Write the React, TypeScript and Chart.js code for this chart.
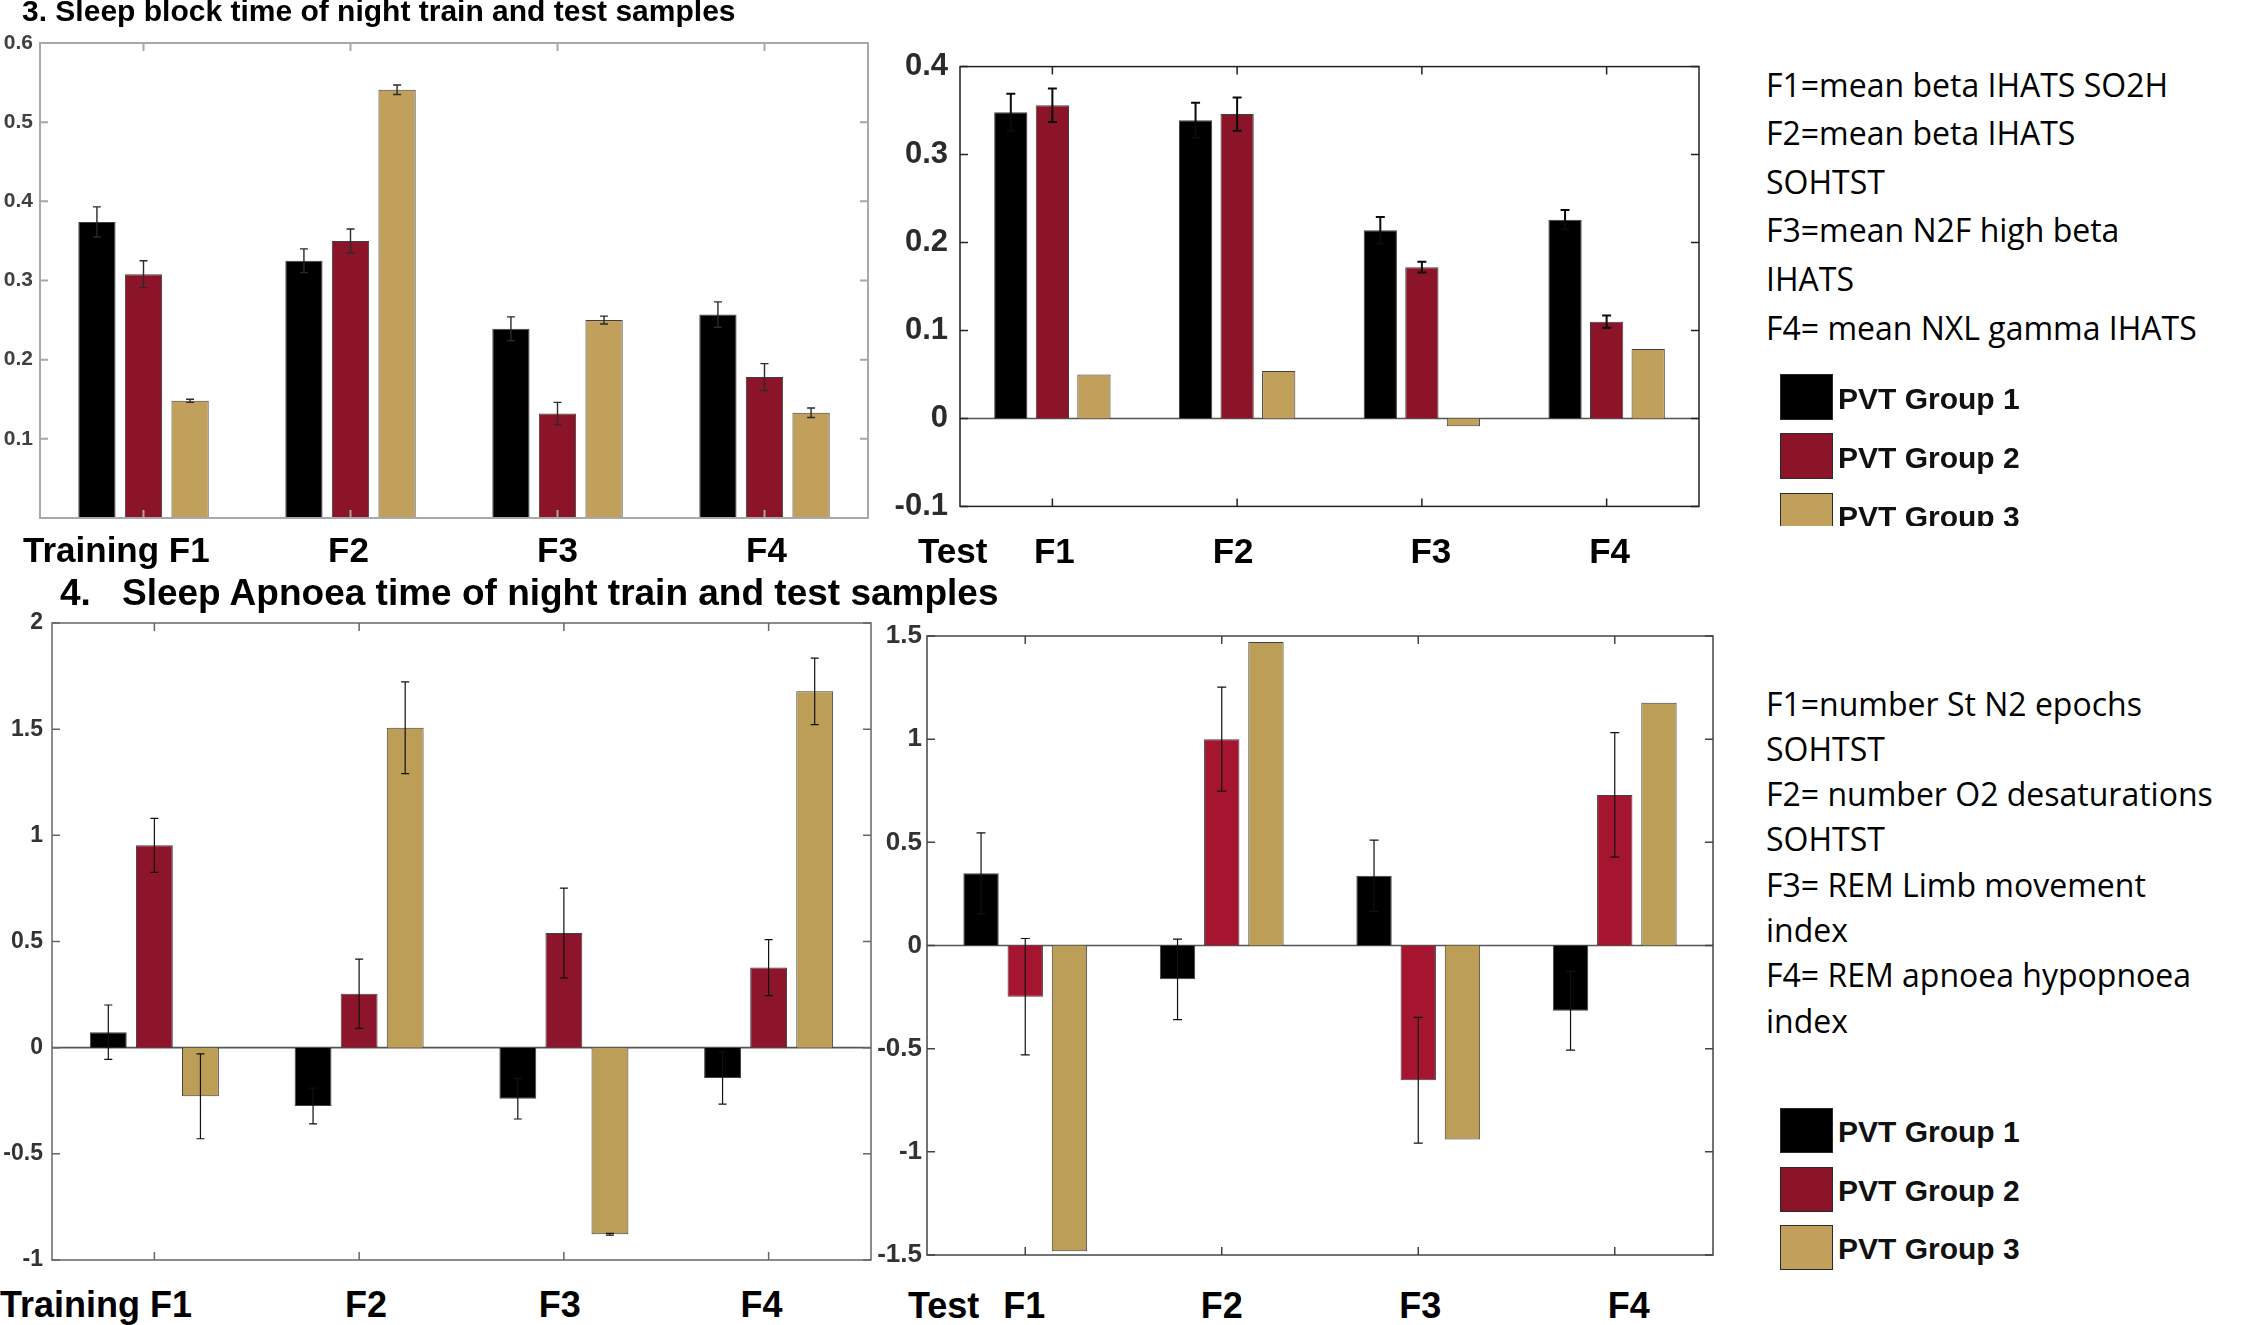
import React, { useEffect, useRef } from 'react';
import { Chart, registerables } from 'chart.js';

Chart.register(...registerables);

// ---------- data ----------
const FEATURES = ['F1', 'F2', 'F3', 'F4'];
const GROUPS = ['PVT Group 1', 'PVT Group 2', 'PVT Group 3'];

// 3. Sleep block time of night – training samples
const blockTrainG1 = [0.374, 0.325, 0.239, 0.257];
const blockTrainG2 = [0.308, 0.35, 0.132, 0.178];
const blockTrainG3 = [0.148, 0.541, 0.25, 0.133];
const blockTrainErrG1 = [0.019, 0.015, 0.015, 0.016];
const blockTrainErrG2 = [0.017, 0.015, 0.014, 0.017];
const blockTrainErrG3 = [0.002, 0.006, 0.005, 0.006];

// 3. Sleep block time of night – test samples
const blockTestG1 = [0.348, 0.339, 0.214, 0.226];
const blockTestG2 = [0.356, 0.346, 0.172, 0.11];
const blockTestG3 = [0.05, 0.054, -0.009, 0.079];
const blockTestErrG1 = [0.021, 0.02, 0.015, 0.011];
const blockTestErrG2 = [0.019, 0.019, 0.006, 0.007];

// 4. Sleep apnoea time of night – training samples
const apnoeaTrainG1 = [0.073, -0.275, -0.241, -0.143];
const apnoeaTrainG2 = [0.953, 0.254, 0.54, 0.377];
const apnoeaTrainG3 = [-0.229, 1.507, -0.879, 1.678];
const apnoeaTrainErrG1 = [0.128, 0.084, 0.095, 0.123];
const apnoeaTrainErrG2 = [0.127, 0.163, 0.211, 0.132];
const apnoeaTrainErrG3 = [0.2, 0.216, 0.004, 0.157];

// 4. Sleep apnoea time of night – test samples
const apnoeaTestG1 = [0.35, -0.164, 0.338, -0.316];
const apnoeaTestG2 = [-0.248, 1.0, -0.653, 0.73];
const apnoeaTestG3 = [-1.482, 1.471, -0.94, 1.177];
const apnoeaTestErrG1 = [0.196, 0.195, 0.173, 0.191];
const apnoeaTestErrG2 = [0.282, 0.252, 0.305, 0.302];

// feature descriptions shown beside each row
const blockNotes = [
  'F1=mean beta IHATS SO2H',
  'F2=mean beta IHATS',
  'SOHTST',
  'F3=mean N2F high beta',
  'IHATS',
  'F4= mean NXL gamma IHATS',
];
const apnoeaNotes = [
  'F1=number St N2 epochs',
  'SOHTST',
  'F2= number O2 desaturations',
  'SOHTST',
  'F3= REM Limb movement',
  'index',
  'F4= REM apnoea hypopnoea',
  'index',
];

// ---------- styling ----------
const SANS = '"Liberation Sans", Arial, Helvetica, sans-serif';
const NARROW = '"Liberation Sans Narrow", "Liberation Sans", Arial, sans-serif';
const BODY = '"Open Sans", "Noto Sans", sans-serif';

const COLORS_A = ['#000000', '#8c1429', '#c1a05b'];
const COLORS_B = ['#000000', '#8c152c', '#bd9e57'];
const COLORS_C = ['#000000', '#a51530', '#bd9e57'];

type Box = { l: number; t: number; r: number; b: number };
type PanelSpec = {
  series: number[][];
  errors: (number[] | null)[];
  colors: string[];
  yMin: number;
  yMax: number;
  yStep: number;
  hideZeroLabel?: boolean;
  box: Box;
  axisW: number;
  labelPad: number;
  tickSize: number;
  tickFamily: string;
  tickColor: string;
  frameColor: string;
  frameWidth: number;
  zeroLine: string | null;
  errColor: string;
  errWidth: number;
  capHalf: number;
};

const PAD = 24;
const TICK_LEN = 8;

function decorPlugin(spec: PanelSpec) {
  return {
    id: 'panelDecor',
    beforeDatasetsDraw(chart: any) {
      if (!spec.zeroLine) return;
      const { ctx, chartArea: a, scales } = chart;
      const y0 = scales.y.getPixelForValue(0);
      ctx.save();
      ctx.strokeStyle = spec.zeroLine;
      ctx.lineWidth = 1.6;
      ctx.beginPath();
      ctx.moveTo(a.left, y0);
      ctx.lineTo(a.right, y0);
      ctx.stroke();
      ctx.restore();
    },
    afterDatasetsDraw(chart: any) {
      const { ctx, chartArea: a, scales } = chart;
      const ys = scales.y;
      const xs = scales.x;
      ctx.save();
      // error bars (mean ± error)
      ctx.strokeStyle = spec.errColor;
      ctx.lineWidth = spec.errWidth;
      chart.data.datasets.forEach((ds: any, i: number) => {
        const errs = spec.errors[i];
        if (!errs) return;
        const meta = chart.getDatasetMeta(i);
        meta.data.forEach((el: any, j: number) => {
          const v = ds.data[j] as number;
          const e = errs[j];
          const hi = ys.getPixelForValue(v + e);
          const lo = ys.getPixelForValue(v - e);
          const x = el.x;
          ctx.beginPath();
          ctx.moveTo(x, hi);
          ctx.lineTo(x, lo);
          ctx.moveTo(x - spec.capHalf, hi);
          ctx.lineTo(x + spec.capHalf, hi);
          ctx.moveTo(x - spec.capHalf, lo);
          ctx.lineTo(x + spec.capHalf, lo);
          ctx.stroke();
        });
      });
      // axes box with inward tick marks
      ctx.strokeStyle = spec.frameColor;
      ctx.lineWidth = spec.frameWidth;
      ctx.strokeRect(a.left, a.top, a.right - a.left, a.bottom - a.top);
      ctx.beginPath();
      ys.ticks.forEach((_: any, k: number) => {
        const py = ys.getPixelForTick(k);
        ctx.moveTo(a.left, py);
        ctx.lineTo(a.left + TICK_LEN, py);
        ctx.moveTo(a.right, py);
        ctx.lineTo(a.right - TICK_LEN, py);
      });
      FEATURES.forEach((_, k) => {
        const px = xs.getPixelForValue(k);
        ctx.moveTo(px, a.top);
        ctx.lineTo(px, a.top + TICK_LEN);
        ctx.moveTo(px, a.bottom);
        ctx.lineTo(px, a.bottom - TICK_LEN);
      });
      ctx.stroke();
      ctx.restore();
    },
  };
}

function BarPanel({ spec }: { spec: PanelSpec }) {
  const ref = useRef<HTMLCanvasElement>(null);
  const w = spec.axisW + (spec.box.r - spec.box.l) + PAD;
  const h = spec.box.b - spec.box.t + 2 * PAD;

  useEffect(() => {
    if (!ref.current) return;
    const chart = new Chart(ref.current, {
      type: 'bar',
      data: {
        labels: FEATURES,
        datasets: spec.series.map((d, i) => ({
          label: GROUPS[i],
          data: d,
          backgroundColor: spec.colors[i],
          borderColor: 'rgba(30,30,30,0.85)',
          borderWidth: 1,
          categoryPercentage: 0.675,
          barPercentage: 0.8,
        })),
      },
      options: {
        responsive: false,
        animation: false,
        layout: { padding: { top: PAD, right: PAD, bottom: PAD, left: 0 } },
        plugins: { legend: { display: false }, tooltip: { enabled: false } },
        scales: {
          x: { display: false },
          y: {
            min: spec.yMin,
            max: spec.yMax,
            afterFit: (s: any) => {
              s.width = spec.axisW;
            },
            grid: { display: false, drawTicks: false },
            border: { display: false },
            ticks: {
              stepSize: spec.yStep,
              padding: spec.labelPad,
              color: spec.tickColor,
              font: { family: spec.tickFamily, size: spec.tickSize, weight: 'bold' },
              callback: (v: any) => {
                const n = Math.round(Number(v) * 10) / 10;
                if (spec.hideZeroLabel && n === 0) return '';
                return String(n === 0 ? 0 : n);
              },
            },
          },
        },
      } as any,
      plugins: [decorPlugin(spec)],
    });
    return () => chart.destroy();
  }, []);

  return (
    <canvas
      ref={ref}
      width={w}
      height={h}
      style={{ position: 'absolute', left: spec.box.l - spec.axisW, top: spec.box.t - PAD }}
    />
  );
}

// ---------- text helpers ----------
type TxtProps = {
  x: number;
  y: number; // baseline
  size: number;
  family?: string;
  weight?: number;
  align?: 'left' | 'center';
  color?: string;
  children: React.ReactNode;
};
function Txt({ x, y, size, family = SANS, weight = 700, align = 'left', color = '#000', children }: TxtProps) {
  const k = family === BODY ? 0.888 : 0.8465;
  const style: React.CSSProperties = {
    position: 'absolute',
    left: x,
    top: y - k * size,
    fontSize: size,
    lineHeight: `${size}px`,
    fontFamily: family,
    fontWeight: weight,
    color,
    whiteSpace: 'pre',
  };
  if (align === 'center') style.transform = 'translateX(-50%)';
  return <div style={style}>{children}</div>;
}

const catCenter = (b: Box, i: number) => b.l + ((b.r - b.l) * (i + 0.5)) / FEATURES.length;

type XLabelProps = {
  box: Box;
  base: number;
  size: number;
  lead: string;
  leadX: number;
  joinFirst: boolean;
  nudge: number[];
};
function XLabels({ box, base, size, lead, leadX, joinFirst, nudge }: XLabelProps) {
  return (
    <>
      {joinFirst ? (
        <Txt x={leadX} y={base} size={size}>{`${lead} ${FEATURES[0]}`}</Txt>
      ) : (
        <>
          <Txt x={leadX} y={base} size={size}>{lead}</Txt>
          <Txt x={catCenter(box, 0) + nudge[0]} y={base} size={size} align="center">{FEATURES[0]}</Txt>
        </>
      )}
      {FEATURES.slice(1).map((f, i) => (
        <Txt key={f} x={catCenter(box, i + 1) + nudge[i + 1]} y={base} size={size} align="center">{f}</Txt>
      ))}
    </>
  );
}

function Legend({ colors, top, step, boxH }: { colors: string[]; top: number; step: number; boxH: number }) {
  return (
    <>
      {GROUPS.map((g, i) => (
        <React.Fragment key={g}>
          <div
            style={{
              position: 'absolute',
              left: 1780,
              top: top + i * step,
              width: 53,
              height: boxH,
              boxSizing: 'border-box',
              background: colors[i],
              border: '1.5px solid #2a2a2a',
            }}
          />
          <Txt x={1838} y={top + i * step + boxH * 0.76} size={30} color="#111">{g}</Txt>
        </React.Fragment>
      ))}
    </>
  );
}

// ---------- panels ----------
const boxTL: Box = { l: 40, t: 43, r: 868, b: 518 };
const boxTR: Box = { l: 960, t: 60, r: 1699, b: 513 };
const boxBL: Box = { l: 52, t: 623, r: 871, b: 1260 };
const boxBR: Box = { l: 927, t: 636, r: 1713, b: 1255 };

const panels: PanelSpec[] = [
  {
    series: [blockTrainG1, blockTrainG2, blockTrainG3],
    errors: [blockTrainErrG1, blockTrainErrG2, blockTrainErrG3],
    colors: COLORS_A,
    yMin: 0, yMax: 0.6, yStep: 0.1, hideZeroLabel: true,
    box: boxTL, axisW: 40, labelPad: 7,
    tickSize: 21, tickFamily: SANS, tickColor: '#404040',
    frameColor: '#a8a8a8', frameWidth: 2,
    zeroLine: null,
    errColor: '#2a2a2a', errWidth: 1.4, capHalf: 4,
  },
  {
    series: [blockTestG1, blockTestG2, blockTestG3],
    errors: [blockTestErrG1, blockTestErrG2, null],
    colors: COLORS_A,
    yMin: -0.1, yMax: 0.4, yStep: 0.1,
    box: boxTR, axisW: 80, labelPad: 12,
    tickSize: 31, tickFamily: SANS, tickColor: '#2b2b2b',
    frameColor: '#222222', frameWidth: 1.5,
    zeroLine: '#555555',
    errColor: '#0a0a0a', errWidth: 2, capHalf: 4.5,
  },
  {
    series: [apnoeaTrainG1, apnoeaTrainG2, apnoeaTrainG3],
    errors: [apnoeaTrainErrG1, apnoeaTrainErrG2, apnoeaTrainErrG3],
    colors: COLORS_B,
    yMin: -1, yMax: 2, yStep: 0.5,
    box: boxBL, axisW: 52, labelPad: 9,
    tickSize: 23, tickFamily: NARROW, tickColor: '#333333',
    frameColor: '#666666', frameWidth: 1.5,
    zeroLine: '#555555',
    errColor: '#111111', errWidth: 1.2, capHalf: 4,
  },
  {
    series: [apnoeaTestG1, apnoeaTestG2, apnoeaTestG3],
    errors: [apnoeaTestErrG1, apnoeaTestErrG2, null],
    colors: COLORS_C,
    yMin: -1.5, yMax: 1.5, yStep: 0.5,
    box: boxBR, axisW: 70, labelPad: 5,
    tickSize: 26, tickFamily: NARROW, tickColor: '#333333',
    frameColor: '#444444', frameWidth: 1.5,
    zeroLine: '#555555',
    errColor: '#111111', errWidth: 1.2, capHalf: 4.5,
  },
];

export default function App() {
  return (
    <div
      style={{
        position: 'absolute',
        left: 0,
        top: 0,
        width: 2250,
        height: 1325,
        background: '#ffffff',
        overflow: 'hidden',
      }}
    >
      {panels.map((p, i) => (
        <BarPanel key={i} spec={p} />
      ))}

      {/* section titles */}
      <Txt x={22} y={21} size={30}>3. Sleep block time of night train and test samples</Txt>
      <Txt x={60} y={605} size={37}>4.</Txt>
      <Txt x={122} y={605} size={37}>Sleep Apnoea time of night train and test samples</Txt>

      {/* category labels */}
      <XLabels box={boxTL} base={562} size={35} lead="Training" leadX={23} joinFirst nudge={[0, -2, 0, 2]} />
      <XLabels box={boxTR} base={563} size={35} lead="Test" leadX={918} joinFirst={false} nudge={[2, -4, 9, 3]} />
      <XLabels box={boxBL} base={1317} size={36} lead="Training" leadX={0} joinFirst nudge={[0, 7, -4, -7]} />
      <XLabels box={boxBR} base={1318} size={36} lead="Test" leadX={908} joinFirst={false} nudge={[-1, 0, 2, 14]} />

      {/* feature descriptions */}
      {blockNotes.map((s, i) => (
        <Txt key={'b' + i} x={1766} y={97 + i * 48.6} size={32} family={BODY} weight={400}>{s}</Txt>
      ))}
      {apnoeaNotes.map((s, i) => (
        <Txt key={'a' + i} x={1766} y={716 + i * 45.3} size={32} family={BODY} weight={400}>{s}</Txt>
      ))}

      {/* group keys (upper one is cut at the bottom) */}
      <div style={{ position: 'absolute', left: 0, top: 0, width: 2250, height: 526, overflow: 'hidden' }}>
        <Legend colors={COLORS_A} top={374} step={59.3} boxH={46} />
      </div>
      <Legend colors={COLORS_A} top={1108} step={58.7} boxH={45} />
    </div>
  );
}
